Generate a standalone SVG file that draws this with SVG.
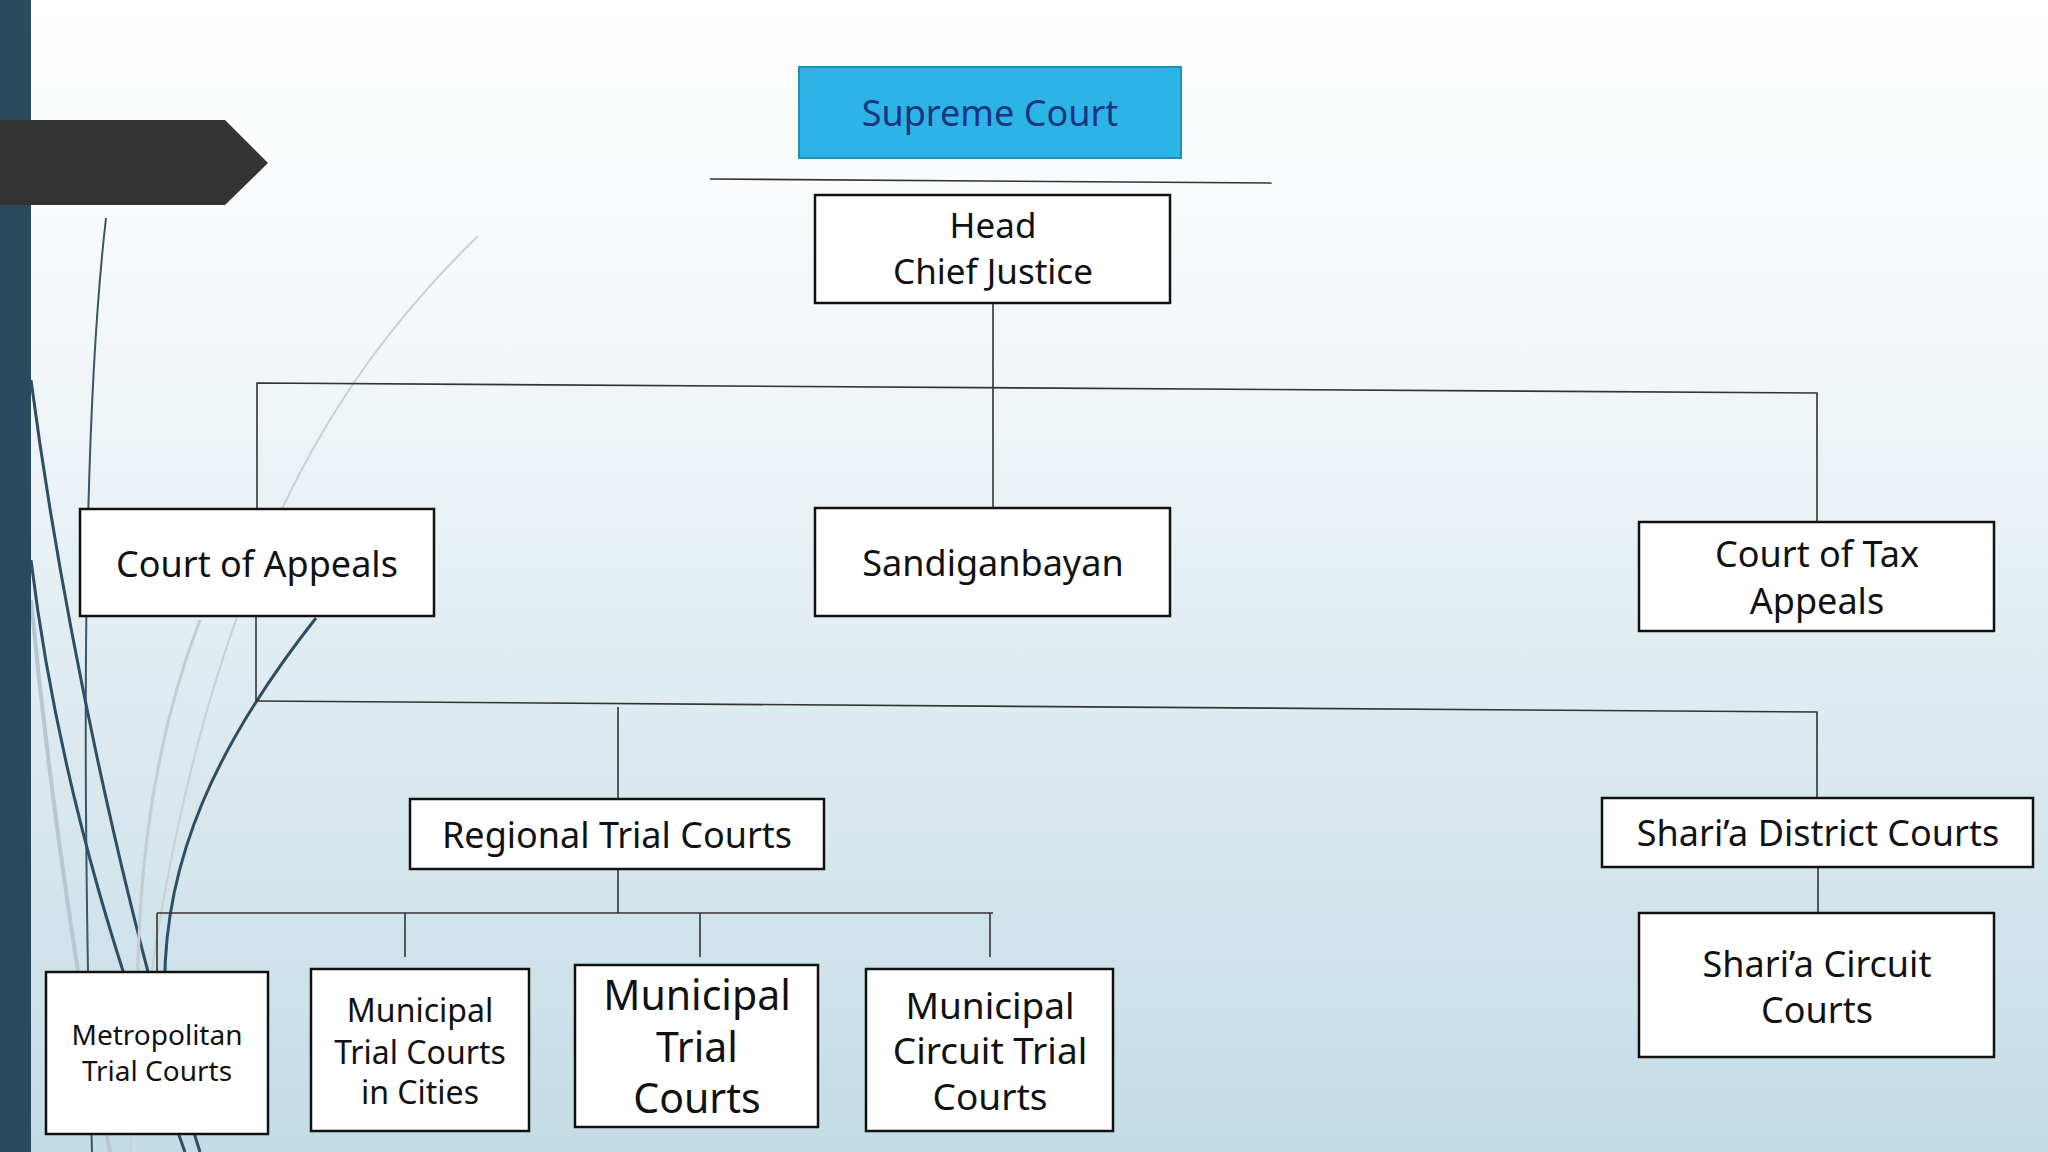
<svg xmlns="http://www.w3.org/2000/svg" width="2048" height="1152" viewBox="0 0 2048 1152">
<defs>
<linearGradient id="bg" x1="0" y1="0" x2="0" y2="1">
<stop offset="0" stop-color="#ffffff"/><stop offset="0.3" stop-color="#f3f7f9"/><stop offset="1" stop-color="#c4dce5"/>
</linearGradient>
<style>
.b{fill:#fff;stroke:#111;stroke-width:2.5}
.t{font-family:"Noto Sans","Open Sans",sans-serif;fill:#111;text-anchor:middle}
.c{stroke:#333;stroke-width:1.6;fill:none}
</style>
</defs>
<rect width="2048" height="1152" fill="url(#bg)"/>
<g fill="none">
<path d="M106,218 C85,400 80,700 92,1152" stroke="#3a5668" stroke-width="2"/>
<path d="M478,236 C330,380 180,600 130,1152" stroke="#c8d0d6" stroke-width="2"/>
<path d="M31,380 C60,600 120,900 200,1152" stroke="#2e4e63" stroke-width="3"/>
<path d="M31,560 C60,800 130,1000 185,1152" stroke="#2e4e63" stroke-width="3"/>
<path d="M316,618 C220,740 160,860 165,1000" stroke="#2e4e63" stroke-width="3"/>
<path d="M31,600 C50,800 80,1000 110,1152" stroke="#b8c6cf" stroke-width="4"/>
<path d="M200,620 C150,750 130,900 140,1100" stroke="#c4ccd2" stroke-width="3"/>
</g>
<rect x="0" y="0" width="31" height="1152" fill="#2c4a5e"/>
<polygon points="0,120 225,120 268,163 225,205 0,205" fill="#333333"/>
<g id="connectors">
<line class="c" x1="710" y1="179" x2="1272" y2="183"/>
<line class="c" x1="993" y1="303" x2="993" y2="508"/>
<polyline class="c" points="257,509 257,383 1817,393 1817,522"/>
<line class="c" x1="256" y1="616" x2="256" y2="701"/>
<polyline class="c" points="256,701 1817,712 1817,798"/>
<line class="c" x1="618" y1="707" x2="618" y2="799"/>
<line class="c" x1="1818" y1="867" x2="1818" y2="913"/>
<line class="c" x1="618" y1="869" x2="618" y2="913"/>
<line class="c" x1="157" y1="913" x2="993" y2="913"/>
<line class="c" x1="157" y1="913" x2="157" y2="972"/>
<line class="c" x1="405" y1="913" x2="405" y2="957"/>
<line class="c" x1="700" y1="913" x2="700" y2="957"/>
<line class="c" x1="990" y1="913" x2="990" y2="957"/>
</g>
<g id="supreme"><rect x="799" y="67" width="382" height="91" fill="#2db4e6" stroke="#1f8fbf" stroke-width="2"/><text class="t" x="990" y="126" font-size="36" style="fill:#1c3480">Supreme Court</text></g>
<g id="head"><rect class="b" x="815" y="195" width="355" height="108"/><text class="t" x="993" y="238" font-size="35">Head</text><text class="t" x="993" y="284" font-size="35">Chief Justice</text></g>
<g id="ca"><rect class="b" x="80" y="509" width="354" height="107"/><text class="t" x="257" y="577" font-size="36">Court of Appeals</text></g>
<g id="sb"><rect class="b" x="815" y="508" width="355" height="108"/><text class="t" x="993" y="576" font-size="36">Sandiganbayan</text></g>
<g id="cta"><rect class="b" x="1639" y="522" width="355" height="109"/><text class="t" x="1817" y="567" font-size="36">Court of Tax</text><text class="t" x="1817" y="614" font-size="36">Appeals</text></g>
<g id="rtc"><rect class="b" x="410" y="799" width="414" height="70"/><text class="t" x="617" y="848" font-size="36">Regional Trial Courts</text></g>
<g id="sdc"><rect class="b" x="1602" y="798" width="431" height="69"/><text class="t" x="1818" y="846" font-size="36">Shari’a District Courts</text></g>
<g id="scc"><rect class="b" x="1639" y="913" width="355" height="144"/><text class="t" x="1817" y="977" font-size="36">Shari’a Circuit</text><text class="t" x="1817" y="1023" font-size="36">Courts</text></g>
<g id="metc"><rect class="b" x="46" y="972" width="222" height="162"/><text class="t" x="157" y="1045" font-size="28">Metropolitan</text><text class="t" x="157" y="1081" font-size="28">Trial Courts</text></g>
<g id="mtcc"><rect class="b" x="311" y="969" width="218" height="162"/><text class="t" x="420" y="1022" font-size="32">Municipal</text><text class="t" x="420" y="1064" font-size="32">Trial Courts</text><text class="t" x="420" y="1104" font-size="32">in Cities</text></g>
<g id="mtc"><rect class="b" x="575" y="965" width="243" height="162"/><text class="t" x="697" y="1010" font-size="41">Municipal</text><text class="t" x="697" y="1062" font-size="41">Trial</text><text class="t" x="697" y="1113" font-size="41">Courts</text></g>
<g id="mctc"><rect class="b" x="866" y="969" width="247" height="162"/><text class="t" x="990" y="1019" font-size="37">Municipal</text><text class="t" x="990" y="1064" font-size="37">Circuit Trial</text><text class="t" x="990" y="1110" font-size="37">Courts</text></g>
</svg>
